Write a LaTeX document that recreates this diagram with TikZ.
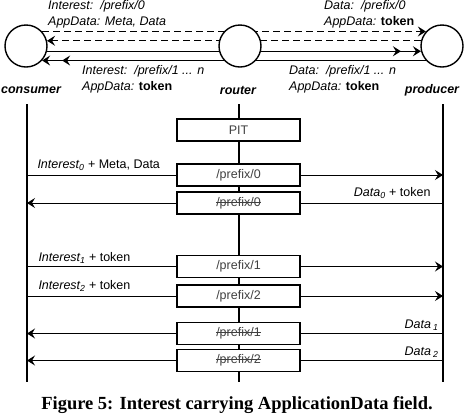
\documentclass[tikz,border=0pt]{standalone}
\usepackage{fontspec}
\setmainfont{Liberation Sans}
\newfontfamily\capfont{Liberation Serif}
\usetikzlibrary{arrows.meta,decorations.markings}
\newcommand{\lblsize}{\fontsize{12.5}{16}\selectfont}
\newcommand{\strikeout}[1]{\setbox0\hbox{#1}\rlap{\raisebox{0.3em}{\rule{\wd0}{0.7pt}}}\box0}
\tikzstyle{peer} = [circle, draw, line width=1.4pt, fill=white,
    minimum size=42pt, inner sep=0pt]
\tikzstyle{peername} = [font=\lblsize\bfseries\itshape, inner sep=0pt]
\tikzstyle{lbl} = [font=\lblsize\itshape, align=left, anchor=west, inner sep=0pt]
\tikzstyle{tbl} = [rectangle, draw, line width=1.5pt, fill=white,
    minimum width=123pt, minimum height=22pt, font=\lblsize, text=black!75]
\tikzstyle{msgtext} = [font=\lblsize, inner sep=0pt]
\tikzstyle{life} = [draw, line width=2pt]
\tikzstyle{tip} = [-{Stealth[length=8pt,width=10pt,inset=3pt]}]
\tikzstyle{line} = [draw, line width=1pt, tip]
\tikzstyle{line1} = [draw, line width=1pt]
\tikzstyle{link} = [draw, line width=1.4pt]
\tikzstyle{dashlink} = [link, dash pattern=on 7pt off 4pt]
\tikzstyle{twotips} = [postaction={decorate}, decoration={markings,
    mark=at position -20pt with {\arrow{Stealth[length=8pt,width=10pt,inset=3pt]}}}]

\begin{document}
\begin{tikzpicture}[x=1pt, y=1pt]
    \useasboundingbox (0,0) rectangle (474,-416);
    % Place nodes
    \node [peer] (cons) at (26,-46) {};
    \node [peer, right of=cons, node distance=416pt] (prod) {};

    % Draw edges
    \path [dashlink, tip] (cons.42) -- (prod.138);
    \path [dashlink, tip] (prod.166) -- (cons.14);
    \path [link, tip, twotips] (cons.-14) -- (prod.-166);
    \path [link, tip, twotips] (prod.-138) -- (cons.-42);

    \node [peer, right of=cons, node distance=214pt] (rtr) {};

    \node [peername, below of=cons, node distance=44pt, xshift=5pt] (consname) {consumer};
    \node [peername, below of=rtr, node distance=44pt, xshift=-2pt] (rtrname) {router};
    \node [peername, below of=prod, node distance=44pt, xshift=-10pt] (prodname) {producer};

    \node [lbl, anchor=north west] (intup) at (48,-0.5) {Interest:\ \ /prefix/0\\AppData: Meta, Data};
    \node [lbl, anchor=north west] (dataup) at (324,-0.5) {Data:\ \ /prefix/0\\AppData: \textup{\bfseries token}};
    \node [lbl] (intdown) at (82,-79) {Interest:\ \ /prefix/1 ... n\\AppData: \textup{\bfseries token}};
    \node [lbl] (datadown) at (289,-79) {Data:\ \ /prefix/1 ... n\\AppData: \textup{\bfseries token}};

    % Lifelines
    \coordinate (ctop) at (27,-104);
    \coordinate (cbot) at (27,-382);
    \coordinate (rtop) at (238.5,-104);
    \coordinate (rbot) at (238.5,-382);
    \coordinate (ptop) at (443,-104);
    \coordinate (pbot) at (443,-382);
    \path [life] (ctop) -- (cbot);
    \path [life] (rtop) -- (rbot);
    \path [life] (ptop) -- (pbot);

    % PIT entries
    \node [tbl] (pit) at (238.5,-130) {PIT};
    \node [tbl, below of=pit, node distance=45pt] (pfx0) {/prefix/0};
    \node [tbl, below of=pfx0, node distance=28pt] (del0) {\strikeout{/prefix/0}};
    \node [tbl, below of=del0, node distance=63.5pt] (pfx1) {/prefix/1};
    \node [tbl, below of=pfx1, node distance=29.5pt] (pfx2) {/prefix/2};
    \node [tbl, below of=pfx2, node distance=37.5pt] (del1) {\strikeout{/prefix/1}};
    \node [tbl, below of=del1, node distance=27pt] (del2) {\strikeout{/prefix/2}};

    % Messages
    \path [line1] (pfx0.west -| ctop) -- node [msgtext, pos=0, anchor=south west, xshift=10pt, yshift=4pt]
        {\itshape Interest\textsubscript{0} \upshape + Meta, Data} (pfx0.west);
    \path [line] (pfx0.east) -- (pfx0.east -| ptop);
    \path [line1] (del0.east -| ptop) -- node [msgtext, pos=0, anchor=south east, xshift=-12pt, yshift=4pt]
        {\itshape Data\textsubscript{0} \upshape + token} (del0.east);
    \path [line] (del0.west) -- (del0.west -| ctop);

    \path [line1] (pfx1.west -| ctop) -- node [msgtext, pos=0, anchor=south west, xshift=11pt, yshift=3pt]
        {\itshape Interest\textsubscript{1} \upshape + token} (pfx1.west);
    \path [line] (pfx1.east) -- (pfx1.east -| ptop);
    \path [line1] (pfx2.west -| ctop) -- node [msgtext, pos=0, anchor=south west, xshift=11pt, yshift=4pt]
        {\itshape Interest\textsubscript{2} \upshape + token} (pfx2.west);
    \path [line] (pfx2.east) -- (pfx2.east -| ptop);

    \path [line1] (del1.east -| ptop) -- node [msgtext, pos=0, anchor=south east, xshift=-4pt, yshift=3pt]
        {\itshape Data\,\textsubscript{1}} (del1.east);
    \path [line] (del1.west) -- (del1.west -| ctop);
    \path [line1] (del2.east -| ptop) -- node [msgtext, pos=0, anchor=south east, xshift=-4pt, yshift=3pt]
        {\itshape Data\,\textsubscript{2}} (del2.east);
    \path [line] (del2.west) -- (del2.west -| ctop);

    % Caption
    \node [font=\capfont\fontsize{18.5}{22}\selectfont\bfseries] (caption) at (237,-405)
        {Figure 5: Interest carrying ApplicationData field.};
\end{tikzpicture}
\end{document}
